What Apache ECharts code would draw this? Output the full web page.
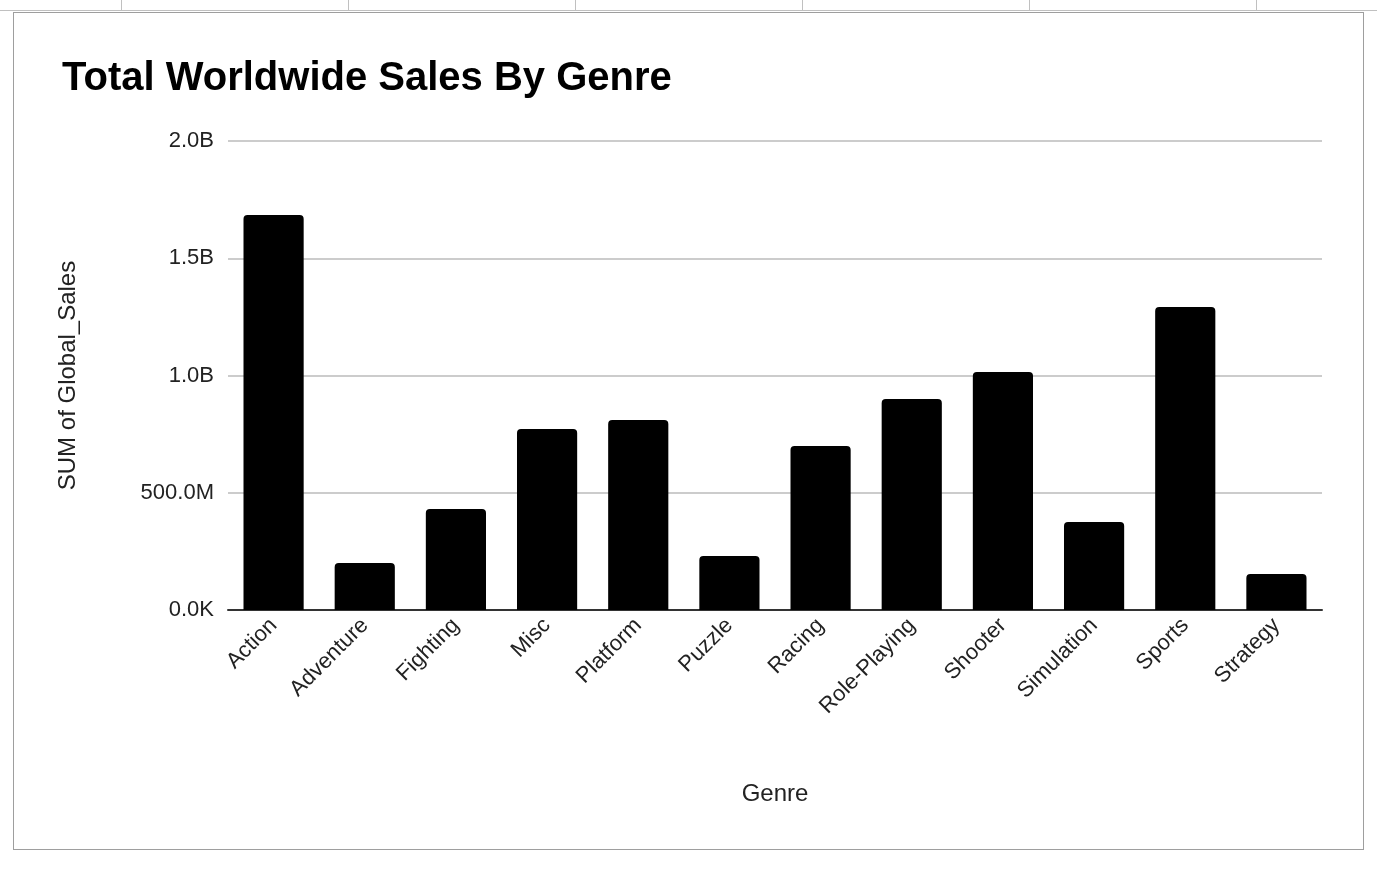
<!DOCTYPE html>
<html><head><meta charset="utf-8">
<script src="https://cdn.jsdelivr.net/npm/echarts@6/dist/echarts.min.js"></script>
<style>
html,body{margin:0;padding:0;background:#fff;width:1377px;height:880px;overflow:hidden;font-family:Arial,"Liberation Sans",sans-serif}
#top{position:absolute;left:0;top:0;width:1377px;height:10px;border-bottom:1px solid #c0c0c0}
.v{position:absolute;top:0;width:1px;height:10px;background:#c0c0c0}
#frame{position:absolute;left:13px;top:12px;width:1351px;height:838px;border:1px solid #9e9e9e;box-sizing:border-box}
#c{position:absolute;left:0;top:0;width:1377px;height:880px}
</style></head><body>
<div id="top"></div>
<div class="v" style="left:121px"></div><div class="v" style="left:348px"></div><div class="v" style="left:575px"></div><div class="v" style="left:802px"></div><div class="v" style="left:1029px"></div><div class="v" style="left:1256px"></div>
<div id="frame"></div>
<div id="c"></div>
<script>
const categories=["Action","Adventure","Fighting","Misc","Platform","Puzzle","Racing","Role-Playing","Shooter","Simulation","Sports","Strategy"];
const sales=[1684e6,200e6,431e6,772e6,810e6,230e6,699e6,900e6,1015e6,375e6,1292e6,154e6];
const chart=echarts.init(document.getElementById('c'));
function fmt(v){if(v===0)return '0.0K';if(v>=1e9)return (v/1e9).toFixed(1)+'B';if(v>=1e6)return (v/1e6).toFixed(1)+'M';return (v/1e3).toFixed(1)+'K';}
chart.setOption({
 animation:false,
 title:{text:'Total Worldwide Sales By Genre',left:57,top:54,textStyle:{fontSize:40,fontWeight:'bold',color:'#000',fontFamily:'Arial, Liberation Sans'}},
 grid:{left:228,right:55,top:141,bottom:270},
 xAxis:{type:'category',data:categories,name:'Genre',nameLocation:'middle',nameGap:172,
  nameTextStyle:{fontSize:24,color:'#222'},
  axisLine:{lineStyle:{color:'#333',width:2}},axisTick:{show:false},
  axisLabel:{rotate:45,fontSize:22,color:'#222',margin:12}},
 yAxis:{type:'value',min:0,max:2e9,interval:5e8,name:'SUM of Global_Sales',nameLocation:'middle',nameGap:148,
  nameTextStyle:{fontSize:24,color:'#222'},
  axisLine:{show:false},axisTick:{show:false},
  axisLabel:{formatter:fmt,fontSize:22,color:'#222',margin:14},
  splitLine:{lineStyle:{color:'#ccc',width:2}}},
 series:[{type:'bar',data:sales,barWidth:'66%',itemStyle:{color:'#000',borderRadius:[4,4,0,0]}}]
});
</script></body></html>
